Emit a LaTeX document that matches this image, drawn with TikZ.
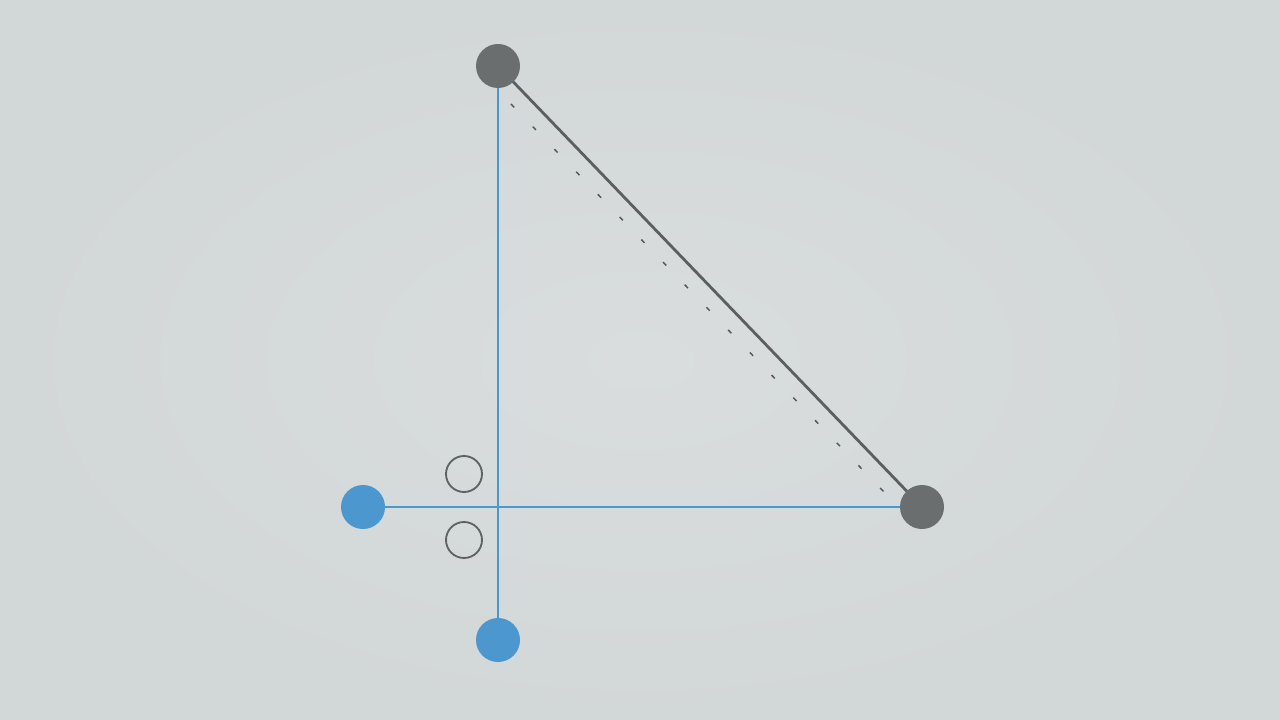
\documentclass[tikz,border=0pt]{standalone}
\begin{document}
\begin{tikzpicture}[x=0.75pt,y=-0.75pt,
  dotg/.style={circle,fill=dotgray,minimum size=44*0.75pt,inner sep=0pt},
  dotb/.style={circle,fill=dotblue,minimum size=44*0.75pt,inner sep=0pt},
  ring/.style={circle,draw=ringgray,line width=1.4pt,minimum size=36*0.75pt,inner sep=0pt},
  blueline/.style={draw=lineblue,line width=2.2pt},
  grayline/.style={draw=linegray,line width=2.1pt},
  marks/.style={draw=markgray,line width=1.1pt,dash pattern=on 3.5pt off 20pt}]
\definecolor{bg}{HTML}{D2D7D8}
\definecolor{bgc}{HTML}{D9DDDD}
\definecolor{dotgray}{HTML}{6B6E6E}
\definecolor{dotblue}{HTML}{4C97CE}
\definecolor{ringgray}{HTML}{606363}
\definecolor{lineblue}{HTML}{4A98D0}
\definecolor{linegray}{HTML}{5C5F5F}
\definecolor{markgray}{HTML}{555959}
\useasboundingbox (0,0) rectangle (1280,720);
\shade[inner color=bgc,outer color=bg] (0,0) rectangle (1280,720);
\coordinate (A) at (498,66);
\coordinate (B) at (922,507);
\coordinate (L) at (363,507);
\coordinate (D) at (498,640);
\coordinate (m1) at (511,104);
\coordinate (m2) at (884,492);
\draw[blueline] (A) -- (D);
\draw[blueline] (L) -- (B);
\draw[grayline] (A) -- (B);
\draw[marks] (m1) -- (m2);
\node[dotg] (a) at (A) {};
\node[dotg] (b) at (B) {};
\node[dotb] (l) at (L) {};
\node[dotb] (d) at (D) {};
\node[ring] (r1) at (464,474) {};
\node[ring] (r2) at (464,540) {};
\end{tikzpicture}
\end{document}
